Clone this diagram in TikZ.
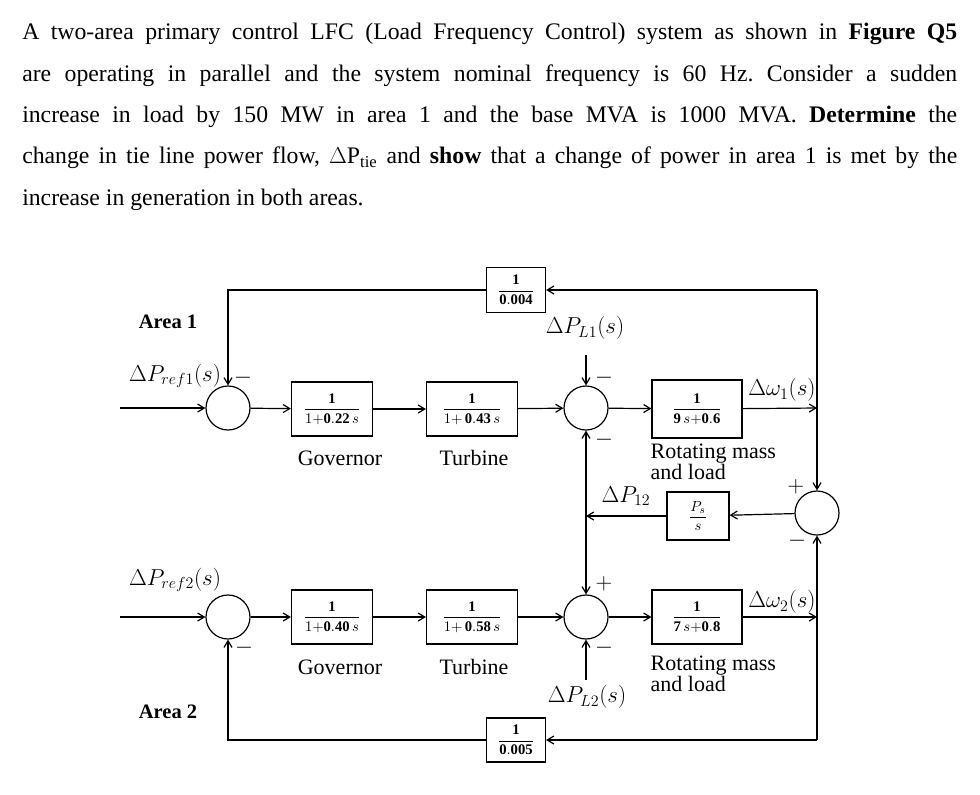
\documentclass[tikz,border=0pt]{standalone}
\usepackage{fontspec}
\setmainfont{Liberation Serif}
\usetikzlibrary{arrows.meta}
\frenchspacing
\begin{document}
\begin{tikzpicture}[x=0.75pt,y=-0.75pt,
  blk/.style={draw,line width=0.9pt,minimum width=#1*0.75pt,minimum height=54*0.75pt,inner sep=0pt},
  sum/.style={draw,circle,line width=0.9pt,minimum size=44*0.75pt,inner sep=0pt},
  ln/.style={line width=0.9pt},
  ar/.style={line width=0.9pt,-{Straight Barb[length=5pt,width=6pt]}},
  lbl/.style={font=\fontsize{16.5}{15}\selectfont},
  ml/.style={font=\fontsize{18}{16}\selectfont},
  sg/.style={font=\fontsize{17}{14}\selectfont},
  fr/.style={font=\fontsize{11}{10}\selectfont}]
\useasboundingbox (0,0) rectangle (980,794);
% paragraph
\node[anchor=north west,text width=935*0.75pt,inner sep=0pt,align=justify,font=\fontsize{17.8}{31}\selectfont] (para) at (22,23)
{A two-area primary control LFC (Load Frequency Control) system as shown in \textbf{Figure Q5}\linebreak are operating in parallel and the system nominal frequency is 60 Hz. Consider a sudden\linebreak increase in load by 150 MW in area 1 and the base MVA is 1000 MVA. \textbf{Determine} the\linebreak change in tie line power flow, $\Delta$P\textsubscript{tie} and \textbf{show} that a change of power in area 1 is met by the\linebreak increase in generation in both areas.};
% area 1
\node[sum] (s1) at (228,408) {};
\node[blk=81,fr] (g1) at (332,409) {$\displaystyle\frac{\mathbf{1}}{1{+}\mathbf{0.22}\,s}$};
\node[blk=91,fr] (t1) at (472,409) {$\displaystyle\frac{\mathbf{1}}{1{+}\,\mathbf{0.43}\,s}$};
\node[sum] (s2) at (586,408) {};
\node[blk=90,minimum height=58*0.75pt,fr] (r1) at (697,409) {$\displaystyle\frac{\mathbf{1}}{\mathbf{9}\,s{+}\mathbf{0.6}}$};
\node[blk=59,minimum height=45*0.75pt,fr] (k1) at (516,290) {$\displaystyle\frac{\mathbf{1}}{\mathbf{0.004}}$};
\node[sum] (s3) at (817,513) {};
\node[blk=62,minimum height=48*0.75pt,fr] (ps) at (698,516) {$\displaystyle\frac{P_s}{s}$};
% area 2
\node[sum] (s5) at (228,617) {};
\node[blk=81,fr] (g2) at (332,617) {$\displaystyle\frac{\mathbf{1}}{1{+}\mathbf{0.40}\,s}$};
\node[blk=91,fr] (t2) at (472,617) {$\displaystyle\frac{\mathbf{1}}{1{+}\,\mathbf{0.58}\,s}$};
\node[sum] (s4) at (586,617) {};
\node[blk=90,fr] (r2) at (697,617) {$\displaystyle\frac{\mathbf{1}}{\mathbf{7}\,s{+}\mathbf{0.8}}$};
\node[blk=59,minimum height=44*0.75pt,fr] (k2) at (516,740) {$\displaystyle\frac{\mathbf{1}}{\mathbf{0.005}}$};
% coordinates
\coordinate (in1) at (120,408);
\coordinate (in2) at (120,617);
\coordinate (j1) at (817,408);
\coordinate (j1t) at (817,290);
\coordinate (j2) at (817,617);
\coordinate (j2b) at (817,740);
\coordinate (c1) at (228,290);
\coordinate (c2) at (228,740);
\coordinate (tie) at (586,516);
\coordinate (pl1) at (586,355);
\coordinate (pl2) at (586,680);
% connectors area 1
\draw[ar] (in1) -- (s1);
\draw[ar] (s1) -- (g1);
\draw[ar] (g1) -- (t1);
\draw[ar] (t1) -- (s2);
\draw[ar] (s2) -- (r1);
\draw[ar] (r1) -- (j1);
\draw[ln] (j1) -- (j1t);
\draw[ar] (j1) -- (s3);
\draw[ar] (j1t) -- (k1);
\draw[ar] (k1) -- (c1) -- (s1);
\draw[ar] (pl1) -- (s2);
\draw[ar] (s3) -- (ps);
\draw[ar] (ps) -- (tie);
\draw[ar] (tie) -- (s2);
\draw[ar] (tie) -- (s4);
% connectors area 2
\draw[ar] (in2) -- (s5);
\draw[ar] (s5) -- (g2);
\draw[ar] (g2) -- (t2);
\draw[ar] (t2) -- (s4);
\draw[ar] (s4) -- (r2);
\draw[ar] (r2) -- (j2);
\draw[ar] (j2) -- (s3);
\draw[ln] (j2) -- (j2b);
\draw[ar] (j2b) -- (k2);
\draw[ar] (k2) -- (c2) -- (s5);
\draw[ar] (pl2) -- (s4);
% labels
\node[font=\fontsize{15.4}{14}\selectfont\bfseries] (a1) at (168,322) {Area 1};
\node[font=\fontsize{15.4}{14}\selectfont\bfseries] (a2) at (168,712) {Area 2};
\node[ml] (lr1) at (175,376) {$\Delta P_{ref1}(s)$};
\node[ml] (lr2) at (175,580) {$\Delta P_{ref2}(s)$};
\node[ml] (ll1) at (585,328) {$\Delta P_{L1}(s)$};
\node[ml] (ll2) at (587,697) {$\Delta P_{L2}(s)$};
\node[ml] (lw1) at (782,390) {$\Delta\omega_1(s)$};
\node[ml] (lw2) at (782,602) {$\Delta\omega_2(s)$};
\node[ml] (l12) at (626,496) {$\Delta P_{12}$};
\node[lbl] (tg1) at (340,458) {Governor};
\node[lbl] (tt1) at (474,458) {Turbine};
\node[lbl,align=left,anchor=west,font=\fontsize{16.5}{13.5}\selectfont] (tr1) at (646,462) {Rotating mass\\and load};
\node[lbl] (tg2) at (340,667) {Governor};
\node[lbl] (tt2) at (474,667) {Turbine};
\node[lbl,align=left,anchor=west,font=\fontsize{16.5}{13.5}\selectfont] (tr2) at (646,674) {Rotating mass\\and load};
% signs
\node[sg] (m1) at (243,378) {$-$};
\node[sg] (m2) at (604,378) {$-$};
\node[sg] (m3) at (604,440) {$-$};
\node[sg] (p3) at (796,487) {$+$};
\node[sg] (m4) at (797,541) {$-$};
\node[sg] (p4) at (604,584) {$+$};
\node[sg] (m5) at (604,648) {$-$};
\node[sg] (m6) at (244,648) {$-$};
\end{tikzpicture}
\end{document}
